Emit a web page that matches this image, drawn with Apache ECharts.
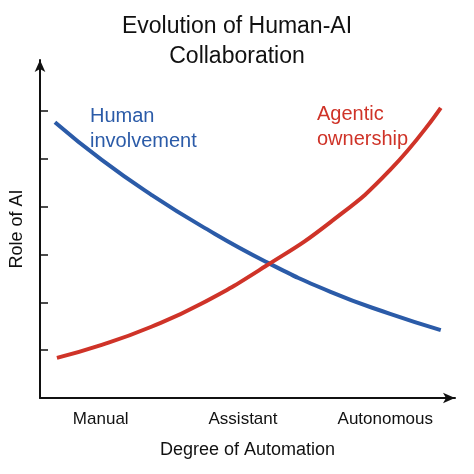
<!DOCTYPE html>
<html><head><meta charset="utf-8">
<script src="https://cdn.jsdelivr.net/npm/echarts@6/dist/echarts.min.js"></script>
<style>html,body{margin:0;padding:0;background:#fff}#c{width:474px;height:474px}</style>
</head><body><div id="c"></div>
<script>
const categories = ['Manual','Assistant','Autonomous'];
const categoryPos = [1,2,3];
const yTicks = [1,2,3,4,5,6];
const humanX = [0.678,1.007,1.356,1.706,2.16,2.615,3.034,3.39];
const humanY = [5.77,4.98,4.25,3.60,2.85,2.22,1.76,1.42];
const agentX = [0.692,1.007,1.356,1.706,2.16,2.615,3.034,3.39];
const agentY = [0.84,1.11,1.49,1.97,2.76,3.68,4.77,6.07];
const F = 'Liberation Sans, Arial, sans-serif';
const chart = echarts.init(document.getElementById('c'));
chart.setOption({
  animation:false,
  title:{text:'Evolution of Human-AI\nCollaboration',left:'center',top:7,
    textStyle:{fontFamily:F,fontSize:23,fontWeight:500,color:'#111',lineHeight:30}},
  grid:{left:38,right:19,top:60,bottom:76},
  xAxis:{type:'value',min:0.573,max:3.49,name:'Degree of Automation',nameLocation:'middle',nameGap:43,
    nameTextStyle:{fontFamily:F,fontSize:18,color:'#111'},
    axisLine:{lineStyle:{color:'#111',width:2},symbol:['none','arrow'],symbolSize:[8,12]},
    axisTick:{show:false},splitLine:{show:false},
    axisLabel:{customValues:categoryPos,formatter:v=>categories[categoryPos.indexOf(v)]||'',
      fontFamily:F,fontSize:17,color:'#111',margin:13}},
  yAxis:{type:'value',min:0,max:7.07,name:'Role of AI',nameLocation:'middle',nameGap:14,
    nameTextStyle:{fontFamily:F,fontSize:18,color:'#111'},
    axisLine:{show:true,lineStyle:{color:'#111',width:2},symbol:['none','arrow'],symbolSize:[8,12]},
    axisTick:{show:true,inside:true,length:8,customValues:yTicks,lineStyle:{color:'#111',width:1.5}},
    axisLabel:{show:false},splitLine:{show:false}},
  series:[
    {type:'line',smooth:true,showSymbol:false,data:humanX.map((x,i)=>[x,humanY[i]]),
      lineStyle:{color:'#2b5ba8',width:4}},
    {type:'line',smooth:true,showSymbol:false,data:agentX.map((x,i)=>[x,agentY[i]]),
      lineStyle:{color:'#cf3328',width:4}}
  ],
  graphic:[
    {type:'text',left:90,top:104,style:{text:'Human\ninvolvement',fill:'#2b5ba8',font:'20px '+F,lineHeight:25}},
    {type:'text',left:317,top:102,style:{text:'Agentic\nownership',fill:'#cf3328',font:'20px '+F,lineHeight:25,align:'left'}}
  ]
});
</script></body></html>
